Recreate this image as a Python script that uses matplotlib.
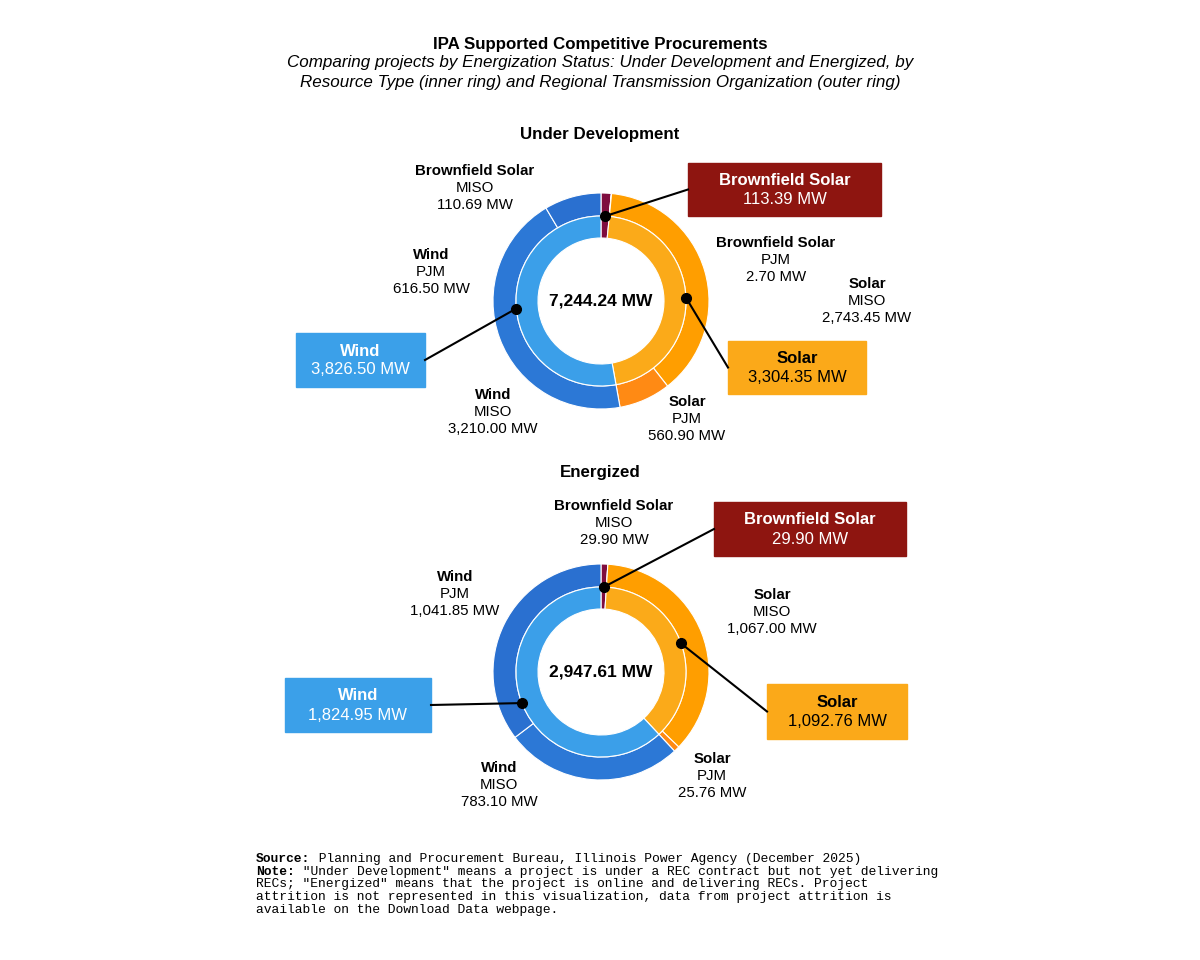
import numpy as np
import matplotlib.pyplot as plt

# inner ring: resource type
types = ["Brownfield Solar", "Solar", "Wind"]
dev_type_mw = [113.39, 3304.35, 3826.50]
ene_type_mw = [29.90, 1092.76, 1824.95]

# outer ring: resource type x RTO
rto_names = ["MISO", "PJM"]
dev_rto_mw = [110.69, 2.70, 2743.45, 560.90, 3210.00, 616.50]
ene_rto_mw = [29.90, 0.0, 1067.00, 25.76, 783.10, 1041.85]

type_colors = ["#7F0D3F", "#FBAA19", "#3B9FE9"]
rto_colors = ["#7F0D3F", "#7F0D3F", "#FF9E00", "#FF8A14", "#2C78D6", "#2A70D0"]
box_colors = ["#8E1510", "#FBA919", "#3BA0E9"]
box_text = ["white", "black", "white"]

W, H = 1200, 960
fig = plt.figure(figsize=(12, 9.6), dpi=100)
ax = fig.add_axes([0, 0, 1, 1])
plt.rcParams['font.family'] = ['Liberation Sans', 'DejaVu Sans']


def fy(y):
    return H - y


def donut(cx, cy, type_mw, rto_mw, total_label, boxes, labels):
    R = 108
    c = (cx, fy(cy))
    ax.pie(rto_mw, radius=R, center=c, colors=rto_colors, startangle=90, counterclock=False,
           wedgeprops=dict(width=23, edgecolor="white", linewidth=0.8))
    ax.pie(type_mw, radius=R - 23, center=c, colors=type_colors, startangle=90, counterclock=False,
           wedgeprops=dict(width=22, edgecolor="white", linewidth=0.8))
    ax.text(cx, fy(cy), total_label, ha="center", va="center", fontsize=12.5, fontweight="bold")

    total = sum(type_mw)
    cum = np.cumsum([0] + list(type_mw))
    for i, name in enumerate(types):
        mid = (cum[i] + type_mw[i] / 2) / total * 2 * np.pi
        dx = cx + 85 * np.sin(mid)
        dy = cy - 85 * np.cos(mid)
        bx0, by0, bx1, by1 = boxes[i]
        ex = bx0 if dx < bx0 else bx1
        ey = (by0 + by1) / 2
        ax.plot([dx, ex], [fy(dy), fy(ey)], color="black", lw=1.5, zorder=5)
        ax.plot(dx, fy(dy), "o", color="black", ms=7, zorder=6)
        ax.add_patch(plt.Rectangle((bx0, fy(by1)), bx1 - bx0, by1 - by0, color=box_colors[i], zorder=4))
        mx = (bx0 + bx1) / 2
        ax.text(mx, fy(ey - 9), name, ha="center", va="center", fontsize=12, fontweight="bold",
                color=box_text[i], zorder=7)
        ax.text(mx, fy(ey + 10), f"{type_mw[i]:,.2f} MW", ha="center", va="center", fontsize=12,
                color=box_text[i], zorder=7)

    for k, pos in labels.items():
        if pos is None:
            continue
        lx, ly = pos
        ax.text(lx, fy(ly), types[k // 2], ha="center", va="center", fontsize=10.8, fontweight="bold")
        ax.text(lx, fy(ly + 17), rto_names[k % 2], ha="center", va="center", fontsize=10.8)
        ax.text(lx, fy(ly + 34), f"{rto_mw[k]:,.2f} MW", ha="center", va="center", fontsize=10.8)


ax.text(600, fy(44), "IPA Supported Competitive Procurements", ha="center", va="center",
        fontsize=12.2, fontweight="bold")
ax.text(600, fy(63), "Comparing projects by Energization Status: Under Development and Energized, by",
        ha="center", va="center", fontsize=12.25, style="italic")
ax.text(600, fy(83), "Resource Type (inner ring) and Regional Transmission Organization (outer ring)",
        ha="center", va="center", fontsize=12.25, style="italic")

ax.text(600, fy(135), "Under Development", ha="center", va="center", fontsize=12.2, fontweight="bold")
donut(601, 301, dev_type_mw, dev_rto_mw, "7,244.24 MW",
      boxes=[(688, 163, 881, 216), (728, 341, 866, 394), (296, 333, 425, 387)],
      labels={0: (475, 171), 1: (776, 243), 2: (867, 284), 3: (687, 402), 4: (493, 395), 5: (431, 255)})

ax.text(600, fy(472), "Energized", ha="center", va="center", fontsize=12.2, fontweight="bold")
donut(601, 672, ene_type_mw, ene_rto_mw, "2,947.61 MW",
      boxes=[(714, 502, 906, 556), (767, 684, 907, 739), (285, 678, 431, 732)],
      labels={0: (614, 506), 1: None, 2: (772, 595), 3: (712, 759), 4: (499, 768), 5: (455, 577)})

foot = [("Source:", " Planning and Procurement Bureau, Illinois Power Agency (December 2025)"),
        ("Note:", " \"Under Development\" means a project is under a REC contract but not yet delivering"),
        ("", "RECs; \"Energized\" means that the project is online and delivering RECs. Project"),
        ("", "attrition is not represented in this visualization, data from project attrition is"),
        ("", "available on the Download Data webpage.")]
fs = 9.4
cw = 0.6 * fs * 100 / 72
for i, (b, rest) in enumerate(foot):
    y = fy(859 + i * 12.75)
    if b:
        ax.text(256, y, b, ha="left", va="center", fontsize=fs, family="Liberation Mono",
                fontweight="bold", color="black")
    ax.text(256 + len(b) * cw, y, rest, ha="left", va="center", fontsize=fs,
            family="Liberation Mono", color="black")

ax.set_xlim(0, W)
ax.set_ylim(0, H)
ax.set_aspect("equal")
ax.axis("off")
fig.savefig("out.png", dpi=100)
